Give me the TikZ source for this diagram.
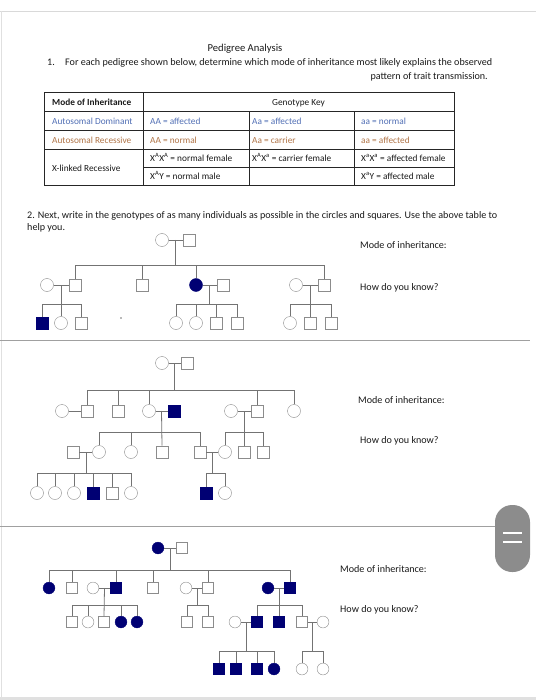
\documentclass[tikz,border=0pt]{standalone}
\usepackage{fontspec}
\setmainfont{Carlito}
\usetikzlibrary{positioning, calc}
\definecolor{inkgray}{RGB}{25,25,25}
\definecolor{domblue}{RGB}{80,110,180}
\definecolor{recbrown}{RGB}{175,115,70}
\definecolor{shapegray}{RGB}{140,140,140}
\definecolor{linegray}{RGB}{115,115,115}
\definecolor{affnavy}{RGB}{0,0,115}
\definecolor{rulegray}{RGB}{160,160,160}
\definecolor{pillgray}{RGB}{140,140,140}

\begin{document}
\begin{tikzpicture}[x=1pt, y=-1pt,
        font=\fontsize{10.1}{11}\selectfont, text=inkgray,
        female/.style={circle, draw=shapegray, fill=white, minimum size=13pt, inner sep=0pt},
        male/.style={rectangle, draw=shapegray, fill=white, minimum size=12.5pt, inner sep=0pt},
        affected/.style={draw=affnavy, fill=affnavy},
        kin/.style={draw=linegray, line width=0.8pt},
        txt/.style={anchor=west, inner sep=0pt, text height=1.5ex, text depth=0.4ex},
        tcell/.style={txt, font=\fontsize{9.3}{11}\selectfont},
        grid/.style={draw=black!85, line width=1pt}]

        \useasboundingbox (0,0) rectangle (536,700);

        % Page edges
        \draw[black!15] (0,11) -- (536,11);
        \draw[black!12] (1,11) -- (1,697);
        \fill[black!12] (0,697) rectangle (536,700);

        % Heading
        \node[inner sep=0pt, font=\fontsize{10.6}{12}\selectfont] (title) at (245,49) {Pedigree Analysis};
        \node[txt] (q1num) at (47,63) {1.};
        \node[txt] (q1a) at (65,63) {For each pedigree shown below, determine which mode of inheritance most likely explains the observed};
        \node[txt, anchor=east] (q1b) at (488,77) {pattern of trait transmission.};

        % Table
        \draw[grid] (44,93) rectangle (454,186);
        \draw[grid] (44,112) -- (454,112);
        \draw[grid] (44,131) -- (454,131);
        \draw[grid] (44,150) -- (454,150);
        \draw[grid] (143,168) -- (454,168);
        \draw[grid] (143,93) -- (143,186);
        \draw[grid] (249,112) -- (249,186);
        \draw[grid] (354,112) -- (354,186);

        \node[tcell, font=\bfseries\fontsize{9.3}{11}\selectfont] (modeHd) at (52,102.5) {Mode of Inheritance};
        \node[tcell, anchor=center] (keyHd) at (298.5,102.5) {Genotype Key};
        \node[tcell, text=domblue] (adName) at (52,121.5) {Autosomal Dominant};
        \node[tcell, text=domblue] (ad1) at (150,121.5) {AA = affected};
        \node[tcell, text=domblue] (ad2) at (252,121.5) {Aa = affected};
        \node[tcell, text=domblue] (ad3) at (361,121.5) {aa = normal};
        \node[tcell, text=recbrown] (arName) at (52,140.5) {Autosomal Recessive};
        \node[tcell, text=recbrown] (ar1) at (150,140.5) {AA = normal};
        \node[tcell, text=recbrown] (ar2) at (252,140.5) {Aa = carrier};
        \node[tcell, text=recbrown] (ar3) at (361,140.5) {aa = affected};
        \node[tcell] (xlName) at (52,168.5) {X-linked Recessive};
        \node[tcell] (xl1) at (150,159) {X\textsuperscript{A}X\textsuperscript{A} = normal female};
        \node[tcell] (xl2) at (252,159) {X\textsuperscript{A}X\textsuperscript{a} = carrier female};
        \node[tcell] (xl3) at (361,159) {X\textsuperscript{a}X\textsuperscript{a} = affected female};
        \node[tcell] (xl4) at (150,177) {X\textsuperscript{A}Y = normal male};
        \node[tcell] (xl5) at (361,177) {X\textsuperscript{a}Y = affected male};

        % Question 2
        \node[txt] (q2a) at (27,216) {2. Next, write in the genotypes of as many individuals as possible in the circles and squares. Use the above table to};
        \node[txt] (q2b) at (27,228) {help you.};

        % ---------------- Pedigree 1 ----------------
        % Nodes
        \node[female] (aI1) at (162,240) {};
        \node[male] (aI2) at (189,240) {};
        \node[female] (aII1) at (47,285) {};
        \node[male] (aII2) at (75,285) {};
        \node[male] (aII3) at (142,285) {};
        \node[female, affected] (aII4) at (196,285) {};
        \node[male] (aII5) at (223,285) {};
        \node[female] (aII6) at (296,285) {};
        \node[male] (aII7) at (324,285) {};
        \node[male, affected] (aIII1) at (42,323) {};
        \node[female] (aIII2) at (61,323) {};
        \node[male] (aIII3) at (81,323) {};
        \node[female] (aIII4) at (176,323) {};
        \node[female] (aIII5) at (196,323) {};
        \node[male] (aIII6) at (216,323) {};
        \node[male] (aIII7) at (237,323) {};
        \node[female] (aIII8) at (290,323) {};
        \node[male] (aIII9) at (310,323) {};
        \node[male] (aIII10) at (331,323) {};
        \fill[linegray] (121,318) circle (0.8pt);

        \coordinate (aS1) at (75,265);   \coordinate (aS1e) at (324,265);
        \coordinate (aS2) at (42,304);   \coordinate (aS2e) at (81,304);
        \coordinate (aS3) at (176,304);  \coordinate (aS3e) at (237,304);
        \coordinate (aS4) at (290,304);  \coordinate (aS4e) at (331,304);
        \coordinate (aM1) at ($(aI1)!0.5!(aI2)$);
        \coordinate (aM2) at ($(aII1)!0.5!(aII2)$);
        \coordinate (aM3) at ($(aII4)!0.5!(aII5)$);
        \coordinate (aM4) at ($(aII6)!0.5!(aII7)$);

        % Lines
        \draw[kin] (aI1) -- (aI2);
        \draw[kin] (aII1) -- (aII2);
        \draw[kin] (aII4) -- (aII5);
        \draw[kin] (aII6) -- (aII7);
        \draw[kin] (aS1) -- (aS1e);
        \draw[kin] (aS2) -- (aS2e);
        \draw[kin] (aS3) -- (aS3e);
        \draw[kin] (aS4) -- (aS4e);
        \draw[kin] (aM1) -- (aM1 |- aS1);
        \draw[kin] (aM2) -- (aIII2.north);
        \draw[kin] (aM3) -- (aM3 |- aS3);
        \draw[kin] (aM4) -- (aIII9.north);
        \foreach \c in {aII2, aII3, aII4, aII7}
            \draw[kin] (\c.north) -- (\c.north |- aS1);
        \foreach \c in {aIII1, aIII3}
            \draw[kin] (\c.north) -- (\c.north |- aS2);
        \foreach \c in {aIII4, aIII5, aIII6, aIII7}
            \draw[kin] (\c.north) -- (\c.north |- aS3);
        \foreach \c in {aIII8, aIII10}
            \draw[kin] (\c.north) -- (\c.north |- aS4);

        \node[txt] (aMode) at (360,246) {Mode of inheritance:};
        \node[txt] (aHow) at (360,288) {How do you know?};
        \draw[rulegray] (0,340) -- (530,340);

        % ---------------- Pedigree 2 ----------------
        % Nodes
        \node[female] (bI1) at (162,363) {};
        \node[male] (bI2) at (187,363) {};
        \node[female] (bII1) at (62,411) {};
        \node[male] (bII2) at (87,411) {};
        \node[male] (bII3) at (118,411) {};
        \node[female] (bII4) at (149,411) {};
        \node[male, affected] (bII5) at (174,411) {};
        \node[female] (bII6) at (231,411) {};
        \node[male] (bII7) at (257,411) {};
        \node[female] (bII8) at (294,411) {};
        \node[male] (bIII1) at (73,452) {};
        \node[female] (bIII2) at (99,452) {};
        \node[female] (bIII3) at (131,452) {};
        \node[male] (bIII4) at (162,452) {};
        \node[male] (bIII5) at (200,452) {};
        \node[female] (bIII6) at (225,452) {};
        \node[male] (bIII7) at (244,452) {};
        \node[male] (bIII8) at (263,452) {};
        \node[female] (bIV1) at (37,493) {};
        \node[female] (bIV2) at (55,493) {};
        \node[female] (bIV3) at (74,493) {};
        \node[male, affected] (bIV4) at (93,493) {};
        \node[male] (bIV5) at (112,493) {};
        \node[female] (bIV6) at (131,493) {};
        \node[male, affected] (bIV7) at (206,493) {};
        \node[female] (bIV8) at (225,493) {};

        \coordinate (bS1) at (87,390);   \coordinate (bS1e) at (294,390);
        \coordinate (bS2) at (99,432);   \coordinate (bS2e) at (200,432);
        \coordinate (bS3) at (225,432);  \coordinate (bS3e) at (263,432);
        \coordinate (bS4) at (37,473);   \coordinate (bS4e) at (131,473);
        \coordinate (bS5) at (206,473);  \coordinate (bS5e) at (225,473);
        \coordinate (bM1) at ($(bI1)!0.5!(bI2)$);
        \coordinate (bM2) at ($(bII4)!0.5!(bII5)$);
        \coordinate (bM3) at ($(bII6)!0.5!(bII7)$);
        \coordinate (bM4) at ($(bIII1)!0.5!(bIII2)$);
        \coordinate (bM5) at ($(bIII5)!0.5!(bIII6)$);

        % Lines
        \draw[kin] (bI1) -- (bI2);
        \draw[kin] (bII1) -- (bII2);
        \draw[kin] (bII4) -- (bII5);
        \draw[kin] (bII6) -- (bII7);
        \draw[kin] (bIII1) -- (bIII2);
        \draw[kin] (bIII5) -- (bIII6);
        \draw[kin] (bS1) -- (bS1e);
        \draw[kin] (bS2) -- (bS2e);
        \draw[kin] (bS3) -- (bS3e);
        \draw[kin] (bS4) -- (bS4e);
        \draw[kin] (bS5) -- (bS5e);
        \draw[kin] (bM1) -- (bM1 |- bS1);
        \draw[kin] (bM2) -- (bIII4.north);
        \draw[kin] (bM3) -- (bIII7.north);
        \draw[kin] (bM4) -- (bM4 |- bS4);
        \draw[kin] (bM5) -- (bM5 |- bS5);
        \foreach \c in {bII2, bII3, bII4, bII7, bII8}
            \draw[kin] (\c.north) -- (\c.north |- bS1);
        \foreach \c in {bIII2, bIII3, bIII5}
            \draw[kin] (\c.north) -- (\c.north |- bS2);
        \foreach \c in {bIII6, bIII8}
            \draw[kin] (\c.north) -- (\c.north |- bS3);
        \foreach \c in {bIV1, bIV2, bIV3, bIV4, bIV5, bIV6}
            \draw[kin] (\c.north) -- (\c.north |- bS4);
        \foreach \c in {bIV7, bIV8}
            \draw[kin] (\c.north) -- (\c.north |- bS5);

        \node[txt] (bMode) at (358,401) {Mode of inheritance:};
        \node[txt] (bHow) at (360,441) {How do you know?};
        \draw[rulegray] (0,526) -- (495,526);

        % ---------------- Pedigree 3 ----------------
        \begin{scope}[female/.append style={minimum size=11.8pt},
                      male/.append style={minimum size=11.2pt}]
        % Nodes
        \node[female, affected] (cI1) at (158,548) {};
        \node[male] (cI2) at (182,548) {};
        \node[female, affected] (cII1) at (49,588) {};
        \node[male] (cII2) at (72,588) {};
        \node[female] (cII3) at (93,588) {};
        \node[male, affected] (cII4) at (116,588) {};
        \node[male] (cII5) at (153,588) {};
        \node[female] (cII6) at (186,588) {};
        \node[male] (cII7) at (208,588) {};
        \node[female, affected] (cII8) at (268,588) {};
        \node[male, affected] (cII9) at (290,588) {};
        \node[male] (cIII1) at (72,622) {};
        \node[female] (cIII2) at (88,622) {};
        \node[male] (cIII3) at (104,622) {};
        \node[female, affected] (cIII4) at (121,622) {};
        \node[female, affected] (cIII5) at (137,622) {};
        \node[male] (cIII6) at (187,622) {};
        \node[male] (cIII7) at (208,622) {};
        \node[female] (cIII8) at (235,622) {};
        \node[male, affected] (cIII9) at (257,622) {};
        \node[male, affected] (cIII10) at (279,622) {};
        \node[male] (cIII11) at (302,622) {};
        \node[female] (cIII12) at (323,622) {};
        \node[male, affected] (cIV1) at (219,669) {};
        \node[male, affected] (cIV2) at (236,669) {};
        \node[male, affected] (cIV3) at (257,669) {};
        \node[female, affected] (cIV4) at (274,669) {};
        \node[female] (cIV5) at (302,669) {};
        \node[female] (cIV6) at (323,669) {};
        \end{scope}

        \coordinate (cS1) at (49,570);   \coordinate (cS1e) at (290,570);
        \coordinate (cS2) at (72,605);   \coordinate (cS2e) at (137,605);
        \coordinate (cS3) at (187,605);  \coordinate (cS3e) at (208,605);
        \coordinate (cS4) at (257,605);  \coordinate (cS4e) at (302,605);
        \coordinate (cS5) at (219,651);  \coordinate (cS5e) at (274,651);
        \coordinate (cS6) at (302,651);  \coordinate (cS6e) at (323,651);
        \coordinate (cM1) at ($(cI1)!0.5!(cI2)$);
        \coordinate (cM2) at ($(cII3)!0.5!(cII4)$);
        \coordinate (cM3) at ($(cII6)!0.5!(cII7)$);
        \coordinate (cM4) at ($(cII8)!0.5!(cII9)$);
        \coordinate (cM5) at ($(cIII8)!0.5!(cIII9)$);
        \coordinate (cM6) at ($(cIII11)!0.5!(cIII12)$);

        % Lines
        \draw[kin] (cI1) -- (cI2);
        \draw[kin] (cII3) -- (cII4);
        \draw[kin] (cII6) -- (cII7);
        \draw[kin] (cII8) -- (cII9);
        \draw[kin] (cIII8) -- (cIII9);
        \draw[kin] (cIII11) -- (cIII12);
        \draw[kin] (cS1) -- (cS1e);
        \draw[kin] (cS2) -- (cS2e);
        \draw[kin] (cS3) -- (cS3e);
        \draw[kin] (cS4) -- (cS4e);
        \draw[kin] (cS5) -- (cS5e);
        \draw[kin] (cS6) -- (cS6e);
        \draw[kin] (cM1) -- (cM1 |- cS1);
        \draw[kin] (cM2) -- (cIII3.north);
        \draw[kin] (cM3) -- (cM3 |- cS3);
        \draw[kin] (cM4) -- (cIII10.north);
        \draw[kin] (cM5) -- (cM5 |- cS5);
        \draw[kin] (cM6) -- (cM6 |- cS6);
        \foreach \c in {cII1, cII2, cII4, cII5, cII7, cII9}
            \draw[kin] (\c.north) -- (\c.north |- cS1);
        \foreach \c in {cIII1, cIII2, cIII4, cIII5}
            \draw[kin] (\c.north) -- (\c.north |- cS2);
        \foreach \c in {cIII6, cIII7}
            \draw[kin] (\c.north) -- (\c.north |- cS3);
        \foreach \c in {cIII9, cIII11}
            \draw[kin] (\c.north) -- (\c.north |- cS4);
        \foreach \c in {cIV1, cIV2, cIV3, cIV4}
            \draw[kin] (\c.north) -- (\c.north |- cS5);
        \foreach \c in {cIV5, cIV6}
            \draw[kin] (\c.north) -- (\c.north |- cS6);

        \node[txt] (cMode) at (340,570) {Mode of inheritance:};
        \node[txt] (cHow) at (340,610) {How do you know?};

        % Scroll handle
        \fill[pillgray, rounded corners=17pt] (495,505) rectangle (530,572);
        \draw[white, line width=1.8pt] (503,533) -- (522,533);
        \draw[white, line width=1.8pt] (503,542) -- (522,542);
\end{tikzpicture}
\end{document}
